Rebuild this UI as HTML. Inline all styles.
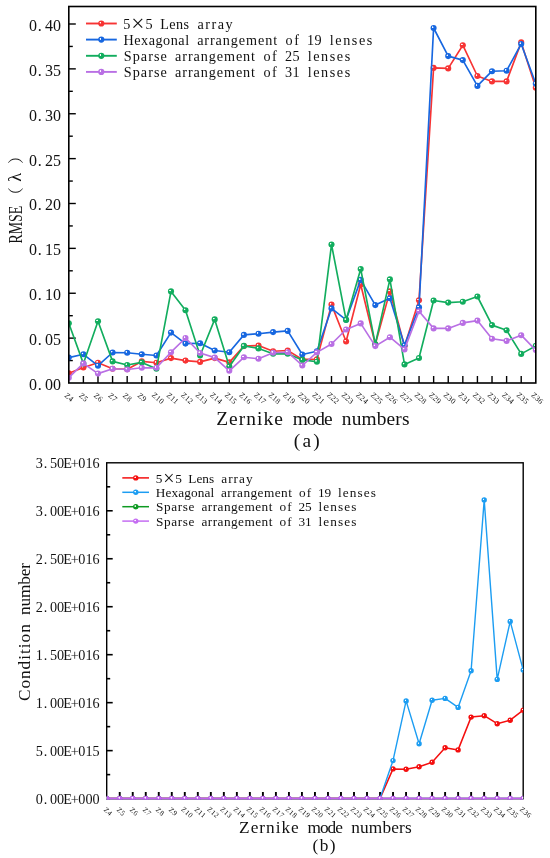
<!DOCTYPE html>
<html lang="en"><head><meta charset="utf-8"><title>Figure</title>
<style>html,body{margin:0;padding:0;background:#fff}svg{display:block}text{font-family:"Liberation Serif", "Noto Serif CJK SC", serif;fill:#111}</style>
</head><body>
<svg width="550" height="858" viewBox="0 0 550 858">
<defs>
<radialGradient id="hl"><stop offset="0" stop-color="#fff" stop-opacity="1"/><stop offset="0.5" stop-color="#fff" stop-opacity="0.95"/><stop offset="1" stop-color="#fff" stop-opacity="0"/></radialGradient>
<clipPath id="clipA"><rect x="68.80" y="6.50" width="467.00" height="376.50"/></clipPath>
<clipPath id="clipB"><rect x="106.70" y="462.80" width="416.50" height="337.00"/></clipPath>
</defs>
<rect width="550" height="858" fill="#fff"/>
<g id="chartA">
<g stroke="#000" stroke-width="1.4">
<line x1="83.39" y1="383.00" x2="83.39" y2="376.00"/>
<line x1="97.99" y1="383.00" x2="97.99" y2="376.00"/>
<line x1="112.58" y1="383.00" x2="112.58" y2="376.00"/>
<line x1="127.17" y1="383.00" x2="127.17" y2="376.00"/>
<line x1="141.77" y1="383.00" x2="141.77" y2="376.00"/>
<line x1="156.36" y1="383.00" x2="156.36" y2="376.00"/>
<line x1="170.96" y1="383.00" x2="170.96" y2="376.00"/>
<line x1="185.55" y1="383.00" x2="185.55" y2="376.00"/>
<line x1="200.14" y1="383.00" x2="200.14" y2="376.00"/>
<line x1="214.74" y1="383.00" x2="214.74" y2="376.00"/>
<line x1="229.33" y1="383.00" x2="229.33" y2="376.00"/>
<line x1="243.92" y1="383.00" x2="243.92" y2="376.00"/>
<line x1="258.52" y1="383.00" x2="258.52" y2="376.00"/>
<line x1="273.11" y1="383.00" x2="273.11" y2="376.00"/>
<line x1="287.71" y1="383.00" x2="287.71" y2="376.00"/>
<line x1="302.30" y1="383.00" x2="302.30" y2="376.00"/>
<line x1="316.89" y1="383.00" x2="316.89" y2="376.00"/>
<line x1="331.49" y1="383.00" x2="331.49" y2="376.00"/>
<line x1="346.08" y1="383.00" x2="346.08" y2="376.00"/>
<line x1="360.67" y1="383.00" x2="360.67" y2="376.00"/>
<line x1="375.27" y1="383.00" x2="375.27" y2="376.00"/>
<line x1="389.86" y1="383.00" x2="389.86" y2="376.00"/>
<line x1="404.46" y1="383.00" x2="404.46" y2="376.00"/>
<line x1="419.05" y1="383.00" x2="419.05" y2="376.00"/>
<line x1="433.64" y1="383.00" x2="433.64" y2="376.00"/>
<line x1="448.24" y1="383.00" x2="448.24" y2="376.00"/>
<line x1="462.83" y1="383.00" x2="462.83" y2="376.00"/>
<line x1="477.42" y1="383.00" x2="477.42" y2="376.00"/>
<line x1="492.02" y1="383.00" x2="492.02" y2="376.00"/>
<line x1="506.61" y1="383.00" x2="506.61" y2="376.00"/>
<line x1="521.21" y1="383.00" x2="521.21" y2="376.00"/>
<line x1="68.80" y1="360.56" x2="72.80" y2="360.56"/>
<line x1="68.80" y1="338.12" x2="75.80" y2="338.12"/>
<line x1="68.80" y1="315.69" x2="72.80" y2="315.69"/>
<line x1="68.80" y1="293.25" x2="75.80" y2="293.25"/>
<line x1="68.80" y1="270.81" x2="72.80" y2="270.81"/>
<line x1="68.80" y1="248.37" x2="75.80" y2="248.37"/>
<line x1="68.80" y1="225.94" x2="72.80" y2="225.94"/>
<line x1="68.80" y1="203.50" x2="75.80" y2="203.50"/>
<line x1="68.80" y1="181.06" x2="72.80" y2="181.06"/>
<line x1="68.80" y1="158.62" x2="75.80" y2="158.62"/>
<line x1="68.80" y1="136.19" x2="72.80" y2="136.19"/>
<line x1="68.80" y1="113.75" x2="75.80" y2="113.75"/>
<line x1="68.80" y1="91.31" x2="72.80" y2="91.31"/>
<line x1="68.80" y1="68.87" x2="75.80" y2="68.87"/>
<line x1="68.80" y1="46.44" x2="72.80" y2="46.44"/>
<line x1="68.80" y1="24.00" x2="75.80" y2="24.00"/>
</g>
<g clip-path="url(#clipA)">
<polyline points="68.8,373.3 83.4,367.5 98.0,362.7 112.6,368.8 127.2,369.3 141.8,361.4 156.4,362.7 171.0,358.1 185.5,360.6 200.1,361.9 214.7,358.1 229.3,362.4 243.9,346.1 258.5,345.6 273.1,351.2 287.7,350.5 302.3,359.4 316.9,359.4 331.5,304.6 346.1,341.5 360.7,284.5 375.3,344.3 389.9,291.4 404.5,346.3 419.0,300.3 433.6,67.9 448.2,68.4 462.8,45.2 477.4,76.0 492.0,81.4 506.6,81.4 521.2,42.4 535.8,87.8" fill="none" stroke="#f73434" stroke-width="1.65" stroke-linejoin="round"/>
<circle cx="68.8" cy="373.3" r="3.05" fill="#f73434"/>
<circle cx="67.9" cy="372.5" r="1.13" fill="url(#hl)"/>
<circle cx="83.4" cy="367.5" r="3.05" fill="#f73434"/>
<circle cx="82.5" cy="366.7" r="1.13" fill="url(#hl)"/>
<circle cx="98.0" cy="362.7" r="3.05" fill="#f73434"/>
<circle cx="97.1" cy="361.9" r="1.13" fill="url(#hl)"/>
<circle cx="112.6" cy="368.8" r="3.05" fill="#f73434"/>
<circle cx="111.7" cy="368.0" r="1.13" fill="url(#hl)"/>
<circle cx="127.2" cy="369.3" r="3.05" fill="#f73434"/>
<circle cx="126.3" cy="368.5" r="1.13" fill="url(#hl)"/>
<circle cx="141.8" cy="361.4" r="3.05" fill="#f73434"/>
<circle cx="140.9" cy="360.6" r="1.13" fill="url(#hl)"/>
<circle cx="156.4" cy="362.7" r="3.05" fill="#f73434"/>
<circle cx="155.5" cy="361.9" r="1.13" fill="url(#hl)"/>
<circle cx="171.0" cy="358.1" r="3.05" fill="#f73434"/>
<circle cx="170.1" cy="357.3" r="1.13" fill="url(#hl)"/>
<circle cx="185.5" cy="360.6" r="3.05" fill="#f73434"/>
<circle cx="184.6" cy="359.8" r="1.13" fill="url(#hl)"/>
<circle cx="200.1" cy="361.9" r="3.05" fill="#f73434"/>
<circle cx="199.2" cy="361.1" r="1.13" fill="url(#hl)"/>
<circle cx="214.7" cy="358.1" r="3.05" fill="#f73434"/>
<circle cx="213.8" cy="357.3" r="1.13" fill="url(#hl)"/>
<circle cx="229.3" cy="362.4" r="3.05" fill="#f73434"/>
<circle cx="228.4" cy="361.6" r="1.13" fill="url(#hl)"/>
<circle cx="243.9" cy="346.1" r="3.05" fill="#f73434"/>
<circle cx="243.0" cy="345.3" r="1.13" fill="url(#hl)"/>
<circle cx="258.5" cy="345.6" r="3.05" fill="#f73434"/>
<circle cx="257.6" cy="344.8" r="1.13" fill="url(#hl)"/>
<circle cx="273.1" cy="351.2" r="3.05" fill="#f73434"/>
<circle cx="272.2" cy="350.4" r="1.13" fill="url(#hl)"/>
<circle cx="287.7" cy="350.5" r="3.05" fill="#f73434"/>
<circle cx="286.8" cy="349.7" r="1.13" fill="url(#hl)"/>
<circle cx="302.3" cy="359.4" r="3.05" fill="#f73434"/>
<circle cx="301.4" cy="358.6" r="1.13" fill="url(#hl)"/>
<circle cx="316.9" cy="359.4" r="3.05" fill="#f73434"/>
<circle cx="316.0" cy="358.6" r="1.13" fill="url(#hl)"/>
<circle cx="331.5" cy="304.6" r="3.05" fill="#f73434"/>
<circle cx="330.6" cy="303.8" r="1.13" fill="url(#hl)"/>
<circle cx="346.1" cy="341.5" r="3.05" fill="#f73434"/>
<circle cx="345.2" cy="340.7" r="1.13" fill="url(#hl)"/>
<circle cx="360.7" cy="284.5" r="3.05" fill="#f73434"/>
<circle cx="359.8" cy="283.7" r="1.13" fill="url(#hl)"/>
<circle cx="375.3" cy="344.3" r="3.05" fill="#f73434"/>
<circle cx="374.4" cy="343.5" r="1.13" fill="url(#hl)"/>
<circle cx="389.9" cy="291.4" r="3.05" fill="#f73434"/>
<circle cx="389.0" cy="290.6" r="1.13" fill="url(#hl)"/>
<circle cx="404.5" cy="346.3" r="3.05" fill="#f73434"/>
<circle cx="403.6" cy="345.5" r="1.13" fill="url(#hl)"/>
<circle cx="419.0" cy="300.3" r="3.05" fill="#f73434"/>
<circle cx="418.1" cy="299.5" r="1.13" fill="url(#hl)"/>
<circle cx="433.6" cy="67.9" r="3.05" fill="#f73434"/>
<circle cx="432.7" cy="67.1" r="1.13" fill="url(#hl)"/>
<circle cx="448.2" cy="68.4" r="3.05" fill="#f73434"/>
<circle cx="447.3" cy="67.6" r="1.13" fill="url(#hl)"/>
<circle cx="462.8" cy="45.2" r="3.05" fill="#f73434"/>
<circle cx="461.9" cy="44.4" r="1.13" fill="url(#hl)"/>
<circle cx="477.4" cy="76.0" r="3.05" fill="#f73434"/>
<circle cx="476.5" cy="75.2" r="1.13" fill="url(#hl)"/>
<circle cx="492.0" cy="81.4" r="3.05" fill="#f73434"/>
<circle cx="491.1" cy="80.6" r="1.13" fill="url(#hl)"/>
<circle cx="506.6" cy="81.4" r="3.05" fill="#f73434"/>
<circle cx="505.7" cy="80.6" r="1.13" fill="url(#hl)"/>
<circle cx="521.2" cy="42.4" r="3.05" fill="#f73434"/>
<circle cx="520.3" cy="41.6" r="1.13" fill="url(#hl)"/>
<circle cx="535.8" cy="87.8" r="3.05" fill="#f73434"/>
<circle cx="534.9" cy="87.0" r="1.13" fill="url(#hl)"/>
<polyline points="68.8,357.6 83.4,354.3 98.0,365.7 112.6,352.5 127.2,352.7 141.8,354.3 156.4,355.5 171.0,332.6 185.5,343.6 200.1,343.3 214.7,350.5 229.3,352.2 243.9,334.9 258.5,333.7 273.1,332.1 287.7,330.9 302.3,354.5 316.9,351.2 331.5,308.4 346.1,319.8 360.7,279.9 375.3,305.1 389.9,298.2 404.5,345.3 419.0,307.4 433.6,28.0 448.2,56.1 462.8,60.1 477.4,85.9 492.0,71.2 506.6,70.7 521.2,44.0 535.8,83.8" fill="none" stroke="#1767e0" stroke-width="1.65" stroke-linejoin="round"/>
<circle cx="68.8" cy="357.6" r="3.05" fill="#1767e0"/>
<circle cx="67.9" cy="356.8" r="1.13" fill="url(#hl)"/>
<circle cx="83.4" cy="354.3" r="3.05" fill="#1767e0"/>
<circle cx="82.5" cy="353.5" r="1.13" fill="url(#hl)"/>
<circle cx="98.0" cy="365.7" r="3.05" fill="#1767e0"/>
<circle cx="97.1" cy="364.9" r="1.13" fill="url(#hl)"/>
<circle cx="112.6" cy="352.5" r="3.05" fill="#1767e0"/>
<circle cx="111.7" cy="351.7" r="1.13" fill="url(#hl)"/>
<circle cx="127.2" cy="352.7" r="3.05" fill="#1767e0"/>
<circle cx="126.3" cy="351.9" r="1.13" fill="url(#hl)"/>
<circle cx="141.8" cy="354.3" r="3.05" fill="#1767e0"/>
<circle cx="140.9" cy="353.5" r="1.13" fill="url(#hl)"/>
<circle cx="156.4" cy="355.5" r="3.05" fill="#1767e0"/>
<circle cx="155.5" cy="354.7" r="1.13" fill="url(#hl)"/>
<circle cx="171.0" cy="332.6" r="3.05" fill="#1767e0"/>
<circle cx="170.1" cy="331.8" r="1.13" fill="url(#hl)"/>
<circle cx="185.5" cy="343.6" r="3.05" fill="#1767e0"/>
<circle cx="184.6" cy="342.8" r="1.13" fill="url(#hl)"/>
<circle cx="200.1" cy="343.3" r="3.05" fill="#1767e0"/>
<circle cx="199.2" cy="342.5" r="1.13" fill="url(#hl)"/>
<circle cx="214.7" cy="350.5" r="3.05" fill="#1767e0"/>
<circle cx="213.8" cy="349.7" r="1.13" fill="url(#hl)"/>
<circle cx="229.3" cy="352.2" r="3.05" fill="#1767e0"/>
<circle cx="228.4" cy="351.4" r="1.13" fill="url(#hl)"/>
<circle cx="243.9" cy="334.9" r="3.05" fill="#1767e0"/>
<circle cx="243.0" cy="334.1" r="1.13" fill="url(#hl)"/>
<circle cx="258.5" cy="333.7" r="3.05" fill="#1767e0"/>
<circle cx="257.6" cy="332.9" r="1.13" fill="url(#hl)"/>
<circle cx="273.1" cy="332.1" r="3.05" fill="#1767e0"/>
<circle cx="272.2" cy="331.3" r="1.13" fill="url(#hl)"/>
<circle cx="287.7" cy="330.9" r="3.05" fill="#1767e0"/>
<circle cx="286.8" cy="330.1" r="1.13" fill="url(#hl)"/>
<circle cx="302.3" cy="354.5" r="3.05" fill="#1767e0"/>
<circle cx="301.4" cy="353.7" r="1.13" fill="url(#hl)"/>
<circle cx="316.9" cy="351.2" r="3.05" fill="#1767e0"/>
<circle cx="316.0" cy="350.4" r="1.13" fill="url(#hl)"/>
<circle cx="331.5" cy="308.4" r="3.05" fill="#1767e0"/>
<circle cx="330.6" cy="307.6" r="1.13" fill="url(#hl)"/>
<circle cx="346.1" cy="319.8" r="3.05" fill="#1767e0"/>
<circle cx="345.2" cy="319.0" r="1.13" fill="url(#hl)"/>
<circle cx="360.7" cy="279.9" r="3.05" fill="#1767e0"/>
<circle cx="359.8" cy="279.1" r="1.13" fill="url(#hl)"/>
<circle cx="375.3" cy="305.1" r="3.05" fill="#1767e0"/>
<circle cx="374.4" cy="304.3" r="1.13" fill="url(#hl)"/>
<circle cx="389.9" cy="298.2" r="3.05" fill="#1767e0"/>
<circle cx="389.0" cy="297.4" r="1.13" fill="url(#hl)"/>
<circle cx="404.5" cy="345.3" r="3.05" fill="#1767e0"/>
<circle cx="403.6" cy="344.5" r="1.13" fill="url(#hl)"/>
<circle cx="419.0" cy="307.4" r="3.05" fill="#1767e0"/>
<circle cx="418.1" cy="306.6" r="1.13" fill="url(#hl)"/>
<circle cx="433.6" cy="28.0" r="3.05" fill="#1767e0"/>
<circle cx="432.7" cy="27.2" r="1.13" fill="url(#hl)"/>
<circle cx="448.2" cy="56.1" r="3.05" fill="#1767e0"/>
<circle cx="447.3" cy="55.3" r="1.13" fill="url(#hl)"/>
<circle cx="462.8" cy="60.1" r="3.05" fill="#1767e0"/>
<circle cx="461.9" cy="59.3" r="1.13" fill="url(#hl)"/>
<circle cx="477.4" cy="85.9" r="3.05" fill="#1767e0"/>
<circle cx="476.5" cy="85.1" r="1.13" fill="url(#hl)"/>
<circle cx="492.0" cy="71.2" r="3.05" fill="#1767e0"/>
<circle cx="491.1" cy="70.4" r="1.13" fill="url(#hl)"/>
<circle cx="506.6" cy="70.7" r="3.05" fill="#1767e0"/>
<circle cx="505.7" cy="69.9" r="1.13" fill="url(#hl)"/>
<circle cx="521.2" cy="44.0" r="3.05" fill="#1767e0"/>
<circle cx="520.3" cy="43.2" r="1.13" fill="url(#hl)"/>
<circle cx="535.8" cy="83.8" r="3.05" fill="#1767e0"/>
<circle cx="534.9" cy="83.0" r="1.13" fill="url(#hl)"/>
<polyline points="68.8,323.2 83.4,363.6 98.0,321.2 112.6,361.4 127.2,365.0 141.8,362.4 156.4,368.8 171.0,291.4 185.5,310.2 200.1,355.5 214.7,319.4 229.3,366.5 243.9,345.9 258.5,348.4 273.1,353.8 287.7,353.8 302.3,359.9 316.9,361.7 331.5,244.5 346.1,319.9 360.7,269.0 375.3,344.3 389.9,279.4 404.5,364.4 419.0,358.0 433.6,300.5 448.2,302.6 462.8,301.7 477.4,296.5 492.0,325.1 506.6,330.3 521.2,353.9 535.8,345.9" fill="none" stroke="#12ad5e" stroke-width="1.65" stroke-linejoin="round"/>
<circle cx="68.8" cy="323.2" r="3.05" fill="#12ad5e"/>
<circle cx="67.9" cy="322.4" r="1.13" fill="url(#hl)"/>
<circle cx="83.4" cy="363.6" r="3.05" fill="#12ad5e"/>
<circle cx="82.5" cy="362.8" r="1.13" fill="url(#hl)"/>
<circle cx="98.0" cy="321.2" r="3.05" fill="#12ad5e"/>
<circle cx="97.1" cy="320.4" r="1.13" fill="url(#hl)"/>
<circle cx="112.6" cy="361.4" r="3.05" fill="#12ad5e"/>
<circle cx="111.7" cy="360.6" r="1.13" fill="url(#hl)"/>
<circle cx="127.2" cy="365.0" r="3.05" fill="#12ad5e"/>
<circle cx="126.3" cy="364.2" r="1.13" fill="url(#hl)"/>
<circle cx="141.8" cy="362.4" r="3.05" fill="#12ad5e"/>
<circle cx="140.9" cy="361.6" r="1.13" fill="url(#hl)"/>
<circle cx="156.4" cy="368.8" r="3.05" fill="#12ad5e"/>
<circle cx="155.5" cy="368.0" r="1.13" fill="url(#hl)"/>
<circle cx="171.0" cy="291.4" r="3.05" fill="#12ad5e"/>
<circle cx="170.1" cy="290.6" r="1.13" fill="url(#hl)"/>
<circle cx="185.5" cy="310.2" r="3.05" fill="#12ad5e"/>
<circle cx="184.6" cy="309.4" r="1.13" fill="url(#hl)"/>
<circle cx="200.1" cy="355.5" r="3.05" fill="#12ad5e"/>
<circle cx="199.2" cy="354.7" r="1.13" fill="url(#hl)"/>
<circle cx="214.7" cy="319.4" r="3.05" fill="#12ad5e"/>
<circle cx="213.8" cy="318.6" r="1.13" fill="url(#hl)"/>
<circle cx="229.3" cy="366.5" r="3.05" fill="#12ad5e"/>
<circle cx="228.4" cy="365.7" r="1.13" fill="url(#hl)"/>
<circle cx="243.9" cy="345.9" r="3.05" fill="#12ad5e"/>
<circle cx="243.0" cy="345.1" r="1.13" fill="url(#hl)"/>
<circle cx="258.5" cy="348.4" r="3.05" fill="#12ad5e"/>
<circle cx="257.6" cy="347.6" r="1.13" fill="url(#hl)"/>
<circle cx="273.1" cy="353.8" r="3.05" fill="#12ad5e"/>
<circle cx="272.2" cy="353.0" r="1.13" fill="url(#hl)"/>
<circle cx="287.7" cy="353.8" r="3.05" fill="#12ad5e"/>
<circle cx="286.8" cy="353.0" r="1.13" fill="url(#hl)"/>
<circle cx="302.3" cy="359.9" r="3.05" fill="#12ad5e"/>
<circle cx="301.4" cy="359.1" r="1.13" fill="url(#hl)"/>
<circle cx="316.9" cy="361.7" r="3.05" fill="#12ad5e"/>
<circle cx="316.0" cy="360.9" r="1.13" fill="url(#hl)"/>
<circle cx="331.5" cy="244.5" r="3.05" fill="#12ad5e"/>
<circle cx="330.6" cy="243.7" r="1.13" fill="url(#hl)"/>
<circle cx="346.1" cy="319.9" r="3.05" fill="#12ad5e"/>
<circle cx="345.2" cy="319.1" r="1.13" fill="url(#hl)"/>
<circle cx="360.7" cy="269.0" r="3.05" fill="#12ad5e"/>
<circle cx="359.8" cy="268.2" r="1.13" fill="url(#hl)"/>
<circle cx="375.3" cy="344.3" r="3.05" fill="#12ad5e"/>
<circle cx="374.4" cy="343.5" r="1.13" fill="url(#hl)"/>
<circle cx="389.9" cy="279.4" r="3.05" fill="#12ad5e"/>
<circle cx="389.0" cy="278.6" r="1.13" fill="url(#hl)"/>
<circle cx="404.5" cy="364.4" r="3.05" fill="#12ad5e"/>
<circle cx="403.6" cy="363.6" r="1.13" fill="url(#hl)"/>
<circle cx="419.0" cy="358.0" r="3.05" fill="#12ad5e"/>
<circle cx="418.1" cy="357.2" r="1.13" fill="url(#hl)"/>
<circle cx="433.6" cy="300.5" r="3.05" fill="#12ad5e"/>
<circle cx="432.7" cy="299.7" r="1.13" fill="url(#hl)"/>
<circle cx="448.2" cy="302.6" r="3.05" fill="#12ad5e"/>
<circle cx="447.3" cy="301.8" r="1.13" fill="url(#hl)"/>
<circle cx="462.8" cy="301.7" r="3.05" fill="#12ad5e"/>
<circle cx="461.9" cy="300.9" r="1.13" fill="url(#hl)"/>
<circle cx="477.4" cy="296.5" r="3.05" fill="#12ad5e"/>
<circle cx="476.5" cy="295.7" r="1.13" fill="url(#hl)"/>
<circle cx="492.0" cy="325.1" r="3.05" fill="#12ad5e"/>
<circle cx="491.1" cy="324.3" r="1.13" fill="url(#hl)"/>
<circle cx="506.6" cy="330.3" r="3.05" fill="#12ad5e"/>
<circle cx="505.7" cy="329.5" r="1.13" fill="url(#hl)"/>
<circle cx="521.2" cy="353.9" r="3.05" fill="#12ad5e"/>
<circle cx="520.3" cy="353.1" r="1.13" fill="url(#hl)"/>
<circle cx="535.8" cy="345.9" r="3.05" fill="#12ad5e"/>
<circle cx="534.9" cy="345.1" r="1.13" fill="url(#hl)"/>
<polyline points="68.8,377.7 83.4,363.4 98.0,373.6 112.6,368.8 127.2,369.5 141.8,367.8 156.4,367.8 171.0,352.2 185.5,338.0 200.1,353.0 214.7,357.6 229.3,370.8 243.9,357.3 258.5,358.8 273.1,352.7 287.7,352.2 302.3,365.5 316.9,352.4 331.5,344.0 346.1,329.5 360.7,323.4 375.3,346.1 389.9,337.2 404.5,349.4 419.0,311.2 433.6,328.4 448.2,328.4 462.8,322.9 477.4,320.6 492.0,338.8 506.6,340.9 521.2,335.2 535.8,350.1" fill="none" stroke="#b96fe4" stroke-width="1.65" stroke-linejoin="round"/>
<circle cx="68.8" cy="377.7" r="3.05" fill="#b96fe4"/>
<circle cx="67.9" cy="376.9" r="1.13" fill="url(#hl)"/>
<circle cx="83.4" cy="363.4" r="3.05" fill="#b96fe4"/>
<circle cx="82.5" cy="362.6" r="1.13" fill="url(#hl)"/>
<circle cx="98.0" cy="373.6" r="3.05" fill="#b96fe4"/>
<circle cx="97.1" cy="372.8" r="1.13" fill="url(#hl)"/>
<circle cx="112.6" cy="368.8" r="3.05" fill="#b96fe4"/>
<circle cx="111.7" cy="368.0" r="1.13" fill="url(#hl)"/>
<circle cx="127.2" cy="369.5" r="3.05" fill="#b96fe4"/>
<circle cx="126.3" cy="368.7" r="1.13" fill="url(#hl)"/>
<circle cx="141.8" cy="367.8" r="3.05" fill="#b96fe4"/>
<circle cx="140.9" cy="367.0" r="1.13" fill="url(#hl)"/>
<circle cx="156.4" cy="367.8" r="3.05" fill="#b96fe4"/>
<circle cx="155.5" cy="367.0" r="1.13" fill="url(#hl)"/>
<circle cx="171.0" cy="352.2" r="3.05" fill="#b96fe4"/>
<circle cx="170.1" cy="351.4" r="1.13" fill="url(#hl)"/>
<circle cx="185.5" cy="338.0" r="3.05" fill="#b96fe4"/>
<circle cx="184.6" cy="337.2" r="1.13" fill="url(#hl)"/>
<circle cx="200.1" cy="353.0" r="3.05" fill="#b96fe4"/>
<circle cx="199.2" cy="352.2" r="1.13" fill="url(#hl)"/>
<circle cx="214.7" cy="357.6" r="3.05" fill="#b96fe4"/>
<circle cx="213.8" cy="356.8" r="1.13" fill="url(#hl)"/>
<circle cx="229.3" cy="370.8" r="3.05" fill="#b96fe4"/>
<circle cx="228.4" cy="370.0" r="1.13" fill="url(#hl)"/>
<circle cx="243.9" cy="357.3" r="3.05" fill="#b96fe4"/>
<circle cx="243.0" cy="356.5" r="1.13" fill="url(#hl)"/>
<circle cx="258.5" cy="358.8" r="3.05" fill="#b96fe4"/>
<circle cx="257.6" cy="358.0" r="1.13" fill="url(#hl)"/>
<circle cx="273.1" cy="352.7" r="3.05" fill="#b96fe4"/>
<circle cx="272.2" cy="351.9" r="1.13" fill="url(#hl)"/>
<circle cx="287.7" cy="352.2" r="3.05" fill="#b96fe4"/>
<circle cx="286.8" cy="351.4" r="1.13" fill="url(#hl)"/>
<circle cx="302.3" cy="365.5" r="3.05" fill="#b96fe4"/>
<circle cx="301.4" cy="364.7" r="1.13" fill="url(#hl)"/>
<circle cx="316.9" cy="352.4" r="3.05" fill="#b96fe4"/>
<circle cx="316.0" cy="351.6" r="1.13" fill="url(#hl)"/>
<circle cx="331.5" cy="344.0" r="3.05" fill="#b96fe4"/>
<circle cx="330.6" cy="343.2" r="1.13" fill="url(#hl)"/>
<circle cx="346.1" cy="329.5" r="3.05" fill="#b96fe4"/>
<circle cx="345.2" cy="328.7" r="1.13" fill="url(#hl)"/>
<circle cx="360.7" cy="323.4" r="3.05" fill="#b96fe4"/>
<circle cx="359.8" cy="322.6" r="1.13" fill="url(#hl)"/>
<circle cx="375.3" cy="346.1" r="3.05" fill="#b96fe4"/>
<circle cx="374.4" cy="345.3" r="1.13" fill="url(#hl)"/>
<circle cx="389.9" cy="337.2" r="3.05" fill="#b96fe4"/>
<circle cx="389.0" cy="336.4" r="1.13" fill="url(#hl)"/>
<circle cx="404.5" cy="349.4" r="3.05" fill="#b96fe4"/>
<circle cx="403.6" cy="348.6" r="1.13" fill="url(#hl)"/>
<circle cx="419.0" cy="311.2" r="3.05" fill="#b96fe4"/>
<circle cx="418.1" cy="310.4" r="1.13" fill="url(#hl)"/>
<circle cx="433.6" cy="328.4" r="3.05" fill="#b96fe4"/>
<circle cx="432.7" cy="327.6" r="1.13" fill="url(#hl)"/>
<circle cx="448.2" cy="328.4" r="3.05" fill="#b96fe4"/>
<circle cx="447.3" cy="327.6" r="1.13" fill="url(#hl)"/>
<circle cx="462.8" cy="322.9" r="3.05" fill="#b96fe4"/>
<circle cx="461.9" cy="322.1" r="1.13" fill="url(#hl)"/>
<circle cx="477.4" cy="320.6" r="3.05" fill="#b96fe4"/>
<circle cx="476.5" cy="319.8" r="1.13" fill="url(#hl)"/>
<circle cx="492.0" cy="338.8" r="3.05" fill="#b96fe4"/>
<circle cx="491.1" cy="338.0" r="1.13" fill="url(#hl)"/>
<circle cx="506.6" cy="340.9" r="3.05" fill="#b96fe4"/>
<circle cx="505.7" cy="340.1" r="1.13" fill="url(#hl)"/>
<circle cx="521.2" cy="335.2" r="3.05" fill="#b96fe4"/>
<circle cx="520.3" cy="334.4" r="1.13" fill="url(#hl)"/>
<circle cx="535.8" cy="350.1" r="3.05" fill="#b96fe4"/>
<circle cx="534.9" cy="349.3" r="1.13" fill="url(#hl)"/>
</g>
<rect x="68.80" y="6.50" width="467.00" height="376.50" fill="none" stroke="#000" stroke-width="1.6"/>
<text x="29.00 37.80 45.00 53.00" y="389.90" font-size="16" >0.00</text>
<text x="29.00 37.80 45.00 53.00" y="345.02" font-size="16" >0.05</text>
<text x="29.00 37.80 45.00 53.00" y="300.15" font-size="16" >0.10</text>
<text x="29.00 37.80 45.00 53.00" y="255.27" font-size="16" >0.15</text>
<text x="29.00 37.80 45.00 53.00" y="210.40" font-size="16" >0.20</text>
<text x="29.00 37.80 45.00 53.00" y="165.53" font-size="16" >0.25</text>
<text x="29.00 37.80 45.00 53.00" y="120.65" font-size="16" >0.30</text>
<text x="29.00 37.80 45.00 53.00" y="75.77" font-size="16" >0.35</text>
<text x="29.00 37.80 45.00 53.00" y="30.90" font-size="16" >0.40</text>
<text transform="translate(69.1,397.3) rotate(41)" font-size="7.8" letter-spacing="0.2" text-anchor="middle" fill="#505050" y="2.6">Z4</text>
<text transform="translate(83.7,397.3) rotate(41)" font-size="7.8" letter-spacing="0.2" text-anchor="middle" fill="#505050" y="2.6">Z5</text>
<text transform="translate(98.3,397.3) rotate(41)" font-size="7.8" letter-spacing="0.2" text-anchor="middle" fill="#505050" y="2.6">Z6</text>
<text transform="translate(112.9,397.3) rotate(41)" font-size="7.8" letter-spacing="0.2" text-anchor="middle" fill="#505050" y="2.6">Z7</text>
<text transform="translate(127.5,397.3) rotate(41)" font-size="7.8" letter-spacing="0.2" text-anchor="middle" fill="#505050" y="2.6">Z8</text>
<text transform="translate(142.1,397.3) rotate(41)" font-size="7.8" letter-spacing="0.2" text-anchor="middle" fill="#505050" y="2.6">Z9</text>
<text transform="translate(158.0,398.2) rotate(41)" font-size="7.8" letter-spacing="0.2" text-anchor="middle" fill="#505050" y="2.6">Z10</text>
<text transform="translate(172.6,398.2) rotate(41)" font-size="7.8" letter-spacing="0.2" text-anchor="middle" fill="#505050" y="2.6">Z11</text>
<text transform="translate(187.2,398.2) rotate(41)" font-size="7.8" letter-spacing="0.2" text-anchor="middle" fill="#505050" y="2.6">Z12</text>
<text transform="translate(201.7,398.2) rotate(41)" font-size="7.8" letter-spacing="0.2" text-anchor="middle" fill="#505050" y="2.6">Z13</text>
<text transform="translate(216.3,398.2) rotate(41)" font-size="7.8" letter-spacing="0.2" text-anchor="middle" fill="#505050" y="2.6">Z14</text>
<text transform="translate(230.9,398.2) rotate(41)" font-size="7.8" letter-spacing="0.2" text-anchor="middle" fill="#505050" y="2.6">Z15</text>
<text transform="translate(245.5,398.2) rotate(41)" font-size="7.8" letter-spacing="0.2" text-anchor="middle" fill="#505050" y="2.6">Z16</text>
<text transform="translate(260.1,398.2) rotate(41)" font-size="7.8" letter-spacing="0.2" text-anchor="middle" fill="#505050" y="2.6">Z17</text>
<text transform="translate(274.7,398.2) rotate(41)" font-size="7.8" letter-spacing="0.2" text-anchor="middle" fill="#505050" y="2.6">Z18</text>
<text transform="translate(289.3,398.2) rotate(41)" font-size="7.8" letter-spacing="0.2" text-anchor="middle" fill="#505050" y="2.6">Z19</text>
<text transform="translate(303.9,398.2) rotate(41)" font-size="7.8" letter-spacing="0.2" text-anchor="middle" fill="#505050" y="2.6">Z20</text>
<text transform="translate(318.5,398.2) rotate(41)" font-size="7.8" letter-spacing="0.2" text-anchor="middle" fill="#505050" y="2.6">Z21</text>
<text transform="translate(333.1,398.2) rotate(41)" font-size="7.8" letter-spacing="0.2" text-anchor="middle" fill="#505050" y="2.6">Z22</text>
<text transform="translate(347.7,398.2) rotate(41)" font-size="7.8" letter-spacing="0.2" text-anchor="middle" fill="#505050" y="2.6">Z23</text>
<text transform="translate(362.3,398.2) rotate(41)" font-size="7.8" letter-spacing="0.2" text-anchor="middle" fill="#505050" y="2.6">Z24</text>
<text transform="translate(376.9,398.2) rotate(41)" font-size="7.8" letter-spacing="0.2" text-anchor="middle" fill="#505050" y="2.6">Z25</text>
<text transform="translate(391.5,398.2) rotate(41)" font-size="7.8" letter-spacing="0.2" text-anchor="middle" fill="#505050" y="2.6">Z26</text>
<text transform="translate(406.1,398.2) rotate(41)" font-size="7.8" letter-spacing="0.2" text-anchor="middle" fill="#505050" y="2.6">Z27</text>
<text transform="translate(420.6,398.2) rotate(41)" font-size="7.8" letter-spacing="0.2" text-anchor="middle" fill="#505050" y="2.6">Z28</text>
<text transform="translate(435.2,398.2) rotate(41)" font-size="7.8" letter-spacing="0.2" text-anchor="middle" fill="#505050" y="2.6">Z29</text>
<text transform="translate(449.8,398.2) rotate(41)" font-size="7.8" letter-spacing="0.2" text-anchor="middle" fill="#505050" y="2.6">Z30</text>
<text transform="translate(464.4,398.2) rotate(41)" font-size="7.8" letter-spacing="0.2" text-anchor="middle" fill="#505050" y="2.6">Z31</text>
<text transform="translate(479.0,398.2) rotate(41)" font-size="7.8" letter-spacing="0.2" text-anchor="middle" fill="#505050" y="2.6">Z32</text>
<text transform="translate(493.6,398.2) rotate(41)" font-size="7.8" letter-spacing="0.2" text-anchor="middle" fill="#505050" y="2.6">Z33</text>
<text transform="translate(508.2,398.2) rotate(41)" font-size="7.8" letter-spacing="0.2" text-anchor="middle" fill="#505050" y="2.6">Z34</text>
<text transform="translate(522.8,398.2) rotate(41)" font-size="7.8" letter-spacing="0.2" text-anchor="middle" fill="#505050" y="2.6">Z35</text>
<text transform="translate(537.4,398.2) rotate(41)" font-size="7.8" letter-spacing="0.2" text-anchor="middle" fill="#505050" y="2.6">Z36</text>
<text x="216.14 229.07 238.77 246.31 257.09 263.57 274.35 285.92 292.66 306.68 315.30 323.93 334.42 341.78 351.63 361.49 376.73 386.59 395.36 401.97" y="425.20" font-size="19.4" >Zernike mode numbers</text>
<text x="293.87 302.49 313.27" y="447.00" font-size="19.4" >(a)</text>
<g transform="translate(21.5,244.0) rotate(-90)"><text x="0.5" y="0" font-size="19.4" textLength="37.8" lengthAdjust="spacingAndGlyphs">RMSE</text>
<text x="40.8 62.3 80.0" y="-0.8 -0.6 -0.8" font-size="16"><tspan>（</tspan><tspan font-size="18.5">λ</tspan><tspan>）</tspan></text>
</g>
<line x1="86" y1="23.5" x2="116.8" y2="23.5" stroke="#f73434" stroke-width="1.9"/>
<circle cx="101.3" cy="23.5" r="3.1" fill="#f73434"/>
<circle cx="100.4" cy="22.7" r="1.15" fill="url(#hl)"/>
<text x="123.33 131.29 145.38 154.50 160.17 169.30 176.05 183.60 191.25 197.46 205.28 211.52 217.77 225.59" y="28.50 30.90 28.50 28.50 28.50 28.50 28.50 28.50 28.50 28.50 28.50 28.50 28.50 28.50" font-size="14.2" >5<tspan font-size="23.4">×</tspan>5 Lens array</text>
<line x1="86" y1="39.6" x2="116.8" y2="39.6" stroke="#1767e0" stroke-width="1.9"/>
<circle cx="101.3" cy="39.6" r="3.1" fill="#1767e0"/>
<circle cx="100.4" cy="38.9" r="1.15" fill="url(#hl)"/>
<text x="123.46 134.23 141.05 148.66 155.48 163.10 170.71 178.33 185.15 191.25 197.15 204.35 209.98 215.61 222.81 230.81 238.81 246.01 257.95 265.16 273.16 279.45 285.62 294.15 301.50 307.08 314.43 323.55 329.78 335.29 343.16 351.83 358.92 366.79" y="44.65 44.65 44.65 44.65 44.65 44.65 44.65 44.65 44.65 44.65 44.65 44.65 44.65 44.65 44.65 44.65 44.65 44.65 44.65 44.65 44.65 44.65 44.65 44.65 44.65 44.65 44.65 44.65 44.65 44.65 44.65 44.65 44.65 44.65" font-size="14.2" >Hexagonal arrangement of 19 lenses</text>
<line x1="86" y1="55.8" x2="116.8" y2="55.8" stroke="#12ad5e" stroke-width="1.9"/>
<circle cx="101.3" cy="55.8" r="3.1" fill="#12ad5e"/>
<circle cx="100.4" cy="55.0" r="1.15" fill="url(#hl)"/>
<text x="123.72 132.66 140.80 148.14 153.91 160.48 169.20 175.10 182.30 187.93 193.56 200.76 208.76 216.76 223.96 235.90 243.11 251.11 257.40 263.57 272.10 279.45 285.02 292.38 301.50 307.73 313.24 321.11 329.78 336.87 344.74" y="60.80 60.80 60.80 60.80 60.80 60.80 60.80 60.80 60.80 60.80 60.80 60.80 60.80 60.80 60.80 60.80 60.80 60.80 60.80 60.80 60.80 60.80 60.80 60.80 60.80 60.80 60.80 60.80 60.80 60.80 60.80" font-size="14.2" >Sparse arrangement of 25 lenses</text>
<line x1="86" y1="71.9" x2="116.8" y2="71.9" stroke="#b96fe4" stroke-width="1.9"/>
<circle cx="101.3" cy="71.9" r="3.1" fill="#b96fe4"/>
<circle cx="100.4" cy="71.1" r="1.15" fill="url(#hl)"/>
<text x="123.72 132.66 140.80 148.14 153.91 160.48 169.20 175.10 182.30 187.93 193.56 200.76 208.76 216.76 223.96 235.90 243.11 251.11 257.40 263.57 272.10 279.45 285.02 292.38 301.50 307.73 313.24 321.11 329.78 336.87 344.74" y="76.95 76.95 76.95 76.95 76.95 76.95 76.95 76.95 76.95 76.95 76.95 76.95 76.95 76.95 76.95 76.95 76.95 76.95 76.95 76.95 76.95 76.95 76.95 76.95 76.95 76.95 76.95 76.95 76.95 76.95 76.95" font-size="14.2" >Sparse arrangement of 31 lenses</text>
</g>
<g id="chartB">
<rect x="106.70" y="462.80" width="416.50" height="335.80" fill="none" stroke="#000" stroke-width="1.4"/>
<g stroke="#000" stroke-width="1.6">
<line x1="119.72" y1="798.60" x2="119.72" y2="792.00" stroke-width="1.9"/>
<line x1="132.73" y1="798.60" x2="132.73" y2="792.00" stroke-width="1.9"/>
<line x1="145.75" y1="798.60" x2="145.75" y2="792.00" stroke-width="1.9"/>
<line x1="158.76" y1="798.60" x2="158.76" y2="792.00" stroke-width="1.9"/>
<line x1="171.78" y1="798.60" x2="171.78" y2="792.00" stroke-width="1.9"/>
<line x1="184.79" y1="798.60" x2="184.79" y2="792.00" stroke-width="1.9"/>
<line x1="197.81" y1="798.60" x2="197.81" y2="792.00" stroke-width="1.9"/>
<line x1="210.83" y1="798.60" x2="210.83" y2="792.00" stroke-width="1.9"/>
<line x1="223.84" y1="798.60" x2="223.84" y2="792.00" stroke-width="1.9"/>
<line x1="236.86" y1="798.60" x2="236.86" y2="792.00" stroke-width="1.9"/>
<line x1="249.87" y1="798.60" x2="249.87" y2="792.00" stroke-width="1.9"/>
<line x1="262.89" y1="798.60" x2="262.89" y2="792.00" stroke-width="1.9"/>
<line x1="275.90" y1="798.60" x2="275.90" y2="792.00" stroke-width="1.9"/>
<line x1="288.92" y1="798.60" x2="288.92" y2="792.00" stroke-width="1.9"/>
<line x1="301.93" y1="798.60" x2="301.93" y2="792.00" stroke-width="1.9"/>
<line x1="314.95" y1="798.60" x2="314.95" y2="792.00" stroke-width="1.9"/>
<line x1="327.97" y1="798.60" x2="327.97" y2="792.00" stroke-width="1.9"/>
<line x1="340.98" y1="798.60" x2="340.98" y2="792.00" stroke-width="1.9"/>
<line x1="354.00" y1="798.60" x2="354.00" y2="792.00" stroke-width="1.9"/>
<line x1="367.01" y1="798.60" x2="367.01" y2="792.00" stroke-width="1.9"/>
<line x1="380.03" y1="798.60" x2="380.03" y2="792.00" stroke-width="1.9"/>
<line x1="393.04" y1="798.60" x2="393.04" y2="792.00" stroke-width="1.9"/>
<line x1="406.06" y1="798.60" x2="406.06" y2="792.00" stroke-width="1.9"/>
<line x1="419.08" y1="798.60" x2="419.08" y2="792.00" stroke-width="1.9"/>
<line x1="432.09" y1="798.60" x2="432.09" y2="792.00" stroke-width="1.9"/>
<line x1="445.11" y1="798.60" x2="445.11" y2="792.00" stroke-width="1.9"/>
<line x1="458.12" y1="798.60" x2="458.12" y2="792.00" stroke-width="1.9"/>
<line x1="471.14" y1="798.60" x2="471.14" y2="792.00" stroke-width="1.9"/>
<line x1="484.15" y1="798.60" x2="484.15" y2="792.00" stroke-width="1.9"/>
<line x1="497.17" y1="798.60" x2="497.17" y2="792.00" stroke-width="1.9"/>
<line x1="510.18" y1="798.60" x2="510.18" y2="792.00" stroke-width="1.9"/>
<line x1="106.70" y1="774.62" x2="110.20" y2="774.62"/>
<line x1="106.70" y1="750.63" x2="112.70" y2="750.63"/>
<line x1="106.70" y1="726.64" x2="110.20" y2="726.64"/>
<line x1="106.70" y1="702.66" x2="112.70" y2="702.66"/>
<line x1="106.70" y1="678.68" x2="110.20" y2="678.68"/>
<line x1="106.70" y1="654.69" x2="112.70" y2="654.69"/>
<line x1="106.70" y1="630.71" x2="110.20" y2="630.71"/>
<line x1="106.70" y1="606.72" x2="112.70" y2="606.72"/>
<line x1="106.70" y1="582.74" x2="110.20" y2="582.74"/>
<line x1="106.70" y1="558.75" x2="112.70" y2="558.75"/>
<line x1="106.70" y1="534.77" x2="110.20" y2="534.77"/>
<line x1="106.70" y1="510.78" x2="112.70" y2="510.78"/>
<line x1="106.70" y1="486.80" x2="110.20" y2="486.80"/>
</g>
<g clip-path="url(#clipB)">
<polyline points="106.7,798.6 119.7,798.6 132.7,798.6 145.7,798.6 158.8,798.6 171.8,798.6 184.8,798.6 197.8,798.6 210.8,798.6 223.8,798.6 236.9,798.6 249.9,798.6 262.9,798.6 275.9,798.6 288.9,798.6 301.9,798.6 315.0,798.6 328.0,798.6 341.0,798.6 354.0,798.6 367.0,798.6 380.0,798.6 393.0,768.9 406.1,769.3 419.1,766.8 432.1,762.3 445.1,747.8 458.1,749.9 471.1,717.1 484.2,715.7 497.2,723.7 510.2,720.2 523.2,710.2" fill="none" stroke="#f40f0f" stroke-width="1.5" stroke-linejoin="round"/>
<circle cx="106.7" cy="798.6" r="2.7" fill="#f40f0f"/>
<circle cx="106.1" cy="798.0" r="0.95" fill="url(#hl)"/>
<circle cx="119.7" cy="798.6" r="2.7" fill="#f40f0f"/>
<circle cx="119.1" cy="798.0" r="0.95" fill="url(#hl)"/>
<circle cx="132.7" cy="798.6" r="2.7" fill="#f40f0f"/>
<circle cx="132.1" cy="798.0" r="0.95" fill="url(#hl)"/>
<circle cx="145.7" cy="798.6" r="2.7" fill="#f40f0f"/>
<circle cx="145.1" cy="798.0" r="0.95" fill="url(#hl)"/>
<circle cx="158.8" cy="798.6" r="2.7" fill="#f40f0f"/>
<circle cx="158.2" cy="798.0" r="0.95" fill="url(#hl)"/>
<circle cx="171.8" cy="798.6" r="2.7" fill="#f40f0f"/>
<circle cx="171.2" cy="798.0" r="0.95" fill="url(#hl)"/>
<circle cx="184.8" cy="798.6" r="2.7" fill="#f40f0f"/>
<circle cx="184.2" cy="798.0" r="0.95" fill="url(#hl)"/>
<circle cx="197.8" cy="798.6" r="2.7" fill="#f40f0f"/>
<circle cx="197.2" cy="798.0" r="0.95" fill="url(#hl)"/>
<circle cx="210.8" cy="798.6" r="2.7" fill="#f40f0f"/>
<circle cx="210.2" cy="798.0" r="0.95" fill="url(#hl)"/>
<circle cx="223.8" cy="798.6" r="2.7" fill="#f40f0f"/>
<circle cx="223.2" cy="798.0" r="0.95" fill="url(#hl)"/>
<circle cx="236.9" cy="798.6" r="2.7" fill="#f40f0f"/>
<circle cx="236.3" cy="798.0" r="0.95" fill="url(#hl)"/>
<circle cx="249.9" cy="798.6" r="2.7" fill="#f40f0f"/>
<circle cx="249.3" cy="798.0" r="0.95" fill="url(#hl)"/>
<circle cx="262.9" cy="798.6" r="2.7" fill="#f40f0f"/>
<circle cx="262.3" cy="798.0" r="0.95" fill="url(#hl)"/>
<circle cx="275.9" cy="798.6" r="2.7" fill="#f40f0f"/>
<circle cx="275.3" cy="798.0" r="0.95" fill="url(#hl)"/>
<circle cx="288.9" cy="798.6" r="2.7" fill="#f40f0f"/>
<circle cx="288.3" cy="798.0" r="0.95" fill="url(#hl)"/>
<circle cx="301.9" cy="798.6" r="2.7" fill="#f40f0f"/>
<circle cx="301.3" cy="798.0" r="0.95" fill="url(#hl)"/>
<circle cx="315.0" cy="798.6" r="2.7" fill="#f40f0f"/>
<circle cx="314.4" cy="798.0" r="0.95" fill="url(#hl)"/>
<circle cx="328.0" cy="798.6" r="2.7" fill="#f40f0f"/>
<circle cx="327.4" cy="798.0" r="0.95" fill="url(#hl)"/>
<circle cx="341.0" cy="798.6" r="2.7" fill="#f40f0f"/>
<circle cx="340.4" cy="798.0" r="0.95" fill="url(#hl)"/>
<circle cx="354.0" cy="798.6" r="2.7" fill="#f40f0f"/>
<circle cx="353.4" cy="798.0" r="0.95" fill="url(#hl)"/>
<circle cx="367.0" cy="798.6" r="2.7" fill="#f40f0f"/>
<circle cx="366.4" cy="798.0" r="0.95" fill="url(#hl)"/>
<circle cx="380.0" cy="798.6" r="2.7" fill="#f40f0f"/>
<circle cx="379.4" cy="798.0" r="0.95" fill="url(#hl)"/>
<circle cx="393.0" cy="768.9" r="2.7" fill="#f40f0f"/>
<circle cx="392.4" cy="768.3" r="0.95" fill="url(#hl)"/>
<circle cx="406.1" cy="769.3" r="2.7" fill="#f40f0f"/>
<circle cx="405.5" cy="768.7" r="0.95" fill="url(#hl)"/>
<circle cx="419.1" cy="766.8" r="2.7" fill="#f40f0f"/>
<circle cx="418.5" cy="766.2" r="0.95" fill="url(#hl)"/>
<circle cx="432.1" cy="762.3" r="2.7" fill="#f40f0f"/>
<circle cx="431.5" cy="761.7" r="0.95" fill="url(#hl)"/>
<circle cx="445.1" cy="747.8" r="2.7" fill="#f40f0f"/>
<circle cx="444.5" cy="747.2" r="0.95" fill="url(#hl)"/>
<circle cx="458.1" cy="749.9" r="2.7" fill="#f40f0f"/>
<circle cx="457.5" cy="749.3" r="0.95" fill="url(#hl)"/>
<circle cx="471.1" cy="717.1" r="2.7" fill="#f40f0f"/>
<circle cx="470.5" cy="716.5" r="0.95" fill="url(#hl)"/>
<circle cx="484.2" cy="715.7" r="2.7" fill="#f40f0f"/>
<circle cx="483.6" cy="715.1" r="0.95" fill="url(#hl)"/>
<circle cx="497.2" cy="723.7" r="2.7" fill="#f40f0f"/>
<circle cx="496.6" cy="723.1" r="0.95" fill="url(#hl)"/>
<circle cx="510.2" cy="720.2" r="2.7" fill="#f40f0f"/>
<circle cx="509.6" cy="719.6" r="0.95" fill="url(#hl)"/>
<circle cx="523.2" cy="710.2" r="2.7" fill="#f40f0f"/>
<circle cx="522.6" cy="709.6" r="0.95" fill="url(#hl)"/>
<polyline points="106.7,798.6 119.7,798.6 132.7,798.6 145.7,798.6 158.8,798.6 171.8,798.6 184.8,798.6 197.8,798.6 210.8,798.6 223.8,798.6 236.9,798.6 249.9,798.6 262.9,798.6 275.9,798.6 288.9,798.6 301.9,798.6 315.0,798.6 328.0,798.6 341.0,798.6 354.0,798.6 367.0,798.6 380.0,798.6 393.0,760.6 406.1,700.9 419.1,743.7 432.1,700.2 445.1,698.4 458.1,707.4 471.1,670.8 484.2,499.9 497.2,679.4 510.2,621.4 523.2,670.1" fill="none" stroke="#1c9df2" stroke-width="1.4" stroke-linejoin="round"/>
<circle cx="106.7" cy="798.6" r="2.7" fill="#1c9df2"/>
<circle cx="106.1" cy="798.0" r="0.95" fill="url(#hl)"/>
<circle cx="119.7" cy="798.6" r="2.7" fill="#1c9df2"/>
<circle cx="119.1" cy="798.0" r="0.95" fill="url(#hl)"/>
<circle cx="132.7" cy="798.6" r="2.7" fill="#1c9df2"/>
<circle cx="132.1" cy="798.0" r="0.95" fill="url(#hl)"/>
<circle cx="145.7" cy="798.6" r="2.7" fill="#1c9df2"/>
<circle cx="145.1" cy="798.0" r="0.95" fill="url(#hl)"/>
<circle cx="158.8" cy="798.6" r="2.7" fill="#1c9df2"/>
<circle cx="158.2" cy="798.0" r="0.95" fill="url(#hl)"/>
<circle cx="171.8" cy="798.6" r="2.7" fill="#1c9df2"/>
<circle cx="171.2" cy="798.0" r="0.95" fill="url(#hl)"/>
<circle cx="184.8" cy="798.6" r="2.7" fill="#1c9df2"/>
<circle cx="184.2" cy="798.0" r="0.95" fill="url(#hl)"/>
<circle cx="197.8" cy="798.6" r="2.7" fill="#1c9df2"/>
<circle cx="197.2" cy="798.0" r="0.95" fill="url(#hl)"/>
<circle cx="210.8" cy="798.6" r="2.7" fill="#1c9df2"/>
<circle cx="210.2" cy="798.0" r="0.95" fill="url(#hl)"/>
<circle cx="223.8" cy="798.6" r="2.7" fill="#1c9df2"/>
<circle cx="223.2" cy="798.0" r="0.95" fill="url(#hl)"/>
<circle cx="236.9" cy="798.6" r="2.7" fill="#1c9df2"/>
<circle cx="236.3" cy="798.0" r="0.95" fill="url(#hl)"/>
<circle cx="249.9" cy="798.6" r="2.7" fill="#1c9df2"/>
<circle cx="249.3" cy="798.0" r="0.95" fill="url(#hl)"/>
<circle cx="262.9" cy="798.6" r="2.7" fill="#1c9df2"/>
<circle cx="262.3" cy="798.0" r="0.95" fill="url(#hl)"/>
<circle cx="275.9" cy="798.6" r="2.7" fill="#1c9df2"/>
<circle cx="275.3" cy="798.0" r="0.95" fill="url(#hl)"/>
<circle cx="288.9" cy="798.6" r="2.7" fill="#1c9df2"/>
<circle cx="288.3" cy="798.0" r="0.95" fill="url(#hl)"/>
<circle cx="301.9" cy="798.6" r="2.7" fill="#1c9df2"/>
<circle cx="301.3" cy="798.0" r="0.95" fill="url(#hl)"/>
<circle cx="315.0" cy="798.6" r="2.7" fill="#1c9df2"/>
<circle cx="314.4" cy="798.0" r="0.95" fill="url(#hl)"/>
<circle cx="328.0" cy="798.6" r="2.7" fill="#1c9df2"/>
<circle cx="327.4" cy="798.0" r="0.95" fill="url(#hl)"/>
<circle cx="341.0" cy="798.6" r="2.7" fill="#1c9df2"/>
<circle cx="340.4" cy="798.0" r="0.95" fill="url(#hl)"/>
<circle cx="354.0" cy="798.6" r="2.7" fill="#1c9df2"/>
<circle cx="353.4" cy="798.0" r="0.95" fill="url(#hl)"/>
<circle cx="367.0" cy="798.6" r="2.7" fill="#1c9df2"/>
<circle cx="366.4" cy="798.0" r="0.95" fill="url(#hl)"/>
<circle cx="380.0" cy="798.6" r="2.7" fill="#1c9df2"/>
<circle cx="379.4" cy="798.0" r="0.95" fill="url(#hl)"/>
<circle cx="393.0" cy="760.6" r="2.7" fill="#1c9df2"/>
<circle cx="392.4" cy="760.0" r="0.95" fill="url(#hl)"/>
<circle cx="406.1" cy="700.9" r="2.7" fill="#1c9df2"/>
<circle cx="405.5" cy="700.3" r="0.95" fill="url(#hl)"/>
<circle cx="419.1" cy="743.7" r="2.7" fill="#1c9df2"/>
<circle cx="418.5" cy="743.1" r="0.95" fill="url(#hl)"/>
<circle cx="432.1" cy="700.2" r="2.7" fill="#1c9df2"/>
<circle cx="431.5" cy="699.6" r="0.95" fill="url(#hl)"/>
<circle cx="445.1" cy="698.4" r="2.7" fill="#1c9df2"/>
<circle cx="444.5" cy="697.8" r="0.95" fill="url(#hl)"/>
<circle cx="458.1" cy="707.4" r="2.7" fill="#1c9df2"/>
<circle cx="457.5" cy="706.8" r="0.95" fill="url(#hl)"/>
<circle cx="471.1" cy="670.8" r="2.7" fill="#1c9df2"/>
<circle cx="470.5" cy="670.2" r="0.95" fill="url(#hl)"/>
<circle cx="484.2" cy="499.9" r="2.7" fill="#1c9df2"/>
<circle cx="483.6" cy="499.3" r="0.95" fill="url(#hl)"/>
<circle cx="497.2" cy="679.4" r="2.7" fill="#1c9df2"/>
<circle cx="496.6" cy="678.8" r="0.95" fill="url(#hl)"/>
<circle cx="510.2" cy="621.4" r="2.7" fill="#1c9df2"/>
<circle cx="509.6" cy="620.8" r="0.95" fill="url(#hl)"/>
<circle cx="523.2" cy="670.1" r="2.7" fill="#1c9df2"/>
<circle cx="522.6" cy="669.5" r="0.95" fill="url(#hl)"/>
<polyline points="106.7,798.6 119.7,798.6 132.7,798.6 145.7,798.6 158.8,798.6 171.8,798.6 184.8,798.6 197.8,798.6 210.8,798.6 223.8,798.6 236.9,798.6 249.9,798.6 262.9,798.6 275.9,798.6 288.9,798.6 301.9,798.6 315.0,798.6 328.0,798.6 341.0,798.6 354.0,798.6 367.0,798.6 380.0,798.6 393.0,798.6 406.1,798.6 419.1,798.6 432.1,798.6 445.1,798.6 458.1,798.6 471.1,798.6 484.2,798.6 497.2,798.6 510.2,798.6 523.2,798.6" fill="none" stroke="#0e9a22" stroke-width="1.5" stroke-linejoin="round"/>
<circle cx="106.7" cy="798.6" r="2.7" fill="#0e9a22"/>
<circle cx="106.1" cy="798.0" r="1.12" fill="url(#hl)"/>
<circle cx="119.7" cy="798.6" r="2.7" fill="#0e9a22"/>
<circle cx="119.1" cy="798.0" r="1.12" fill="url(#hl)"/>
<circle cx="132.7" cy="798.6" r="2.7" fill="#0e9a22"/>
<circle cx="132.1" cy="798.0" r="1.12" fill="url(#hl)"/>
<circle cx="145.7" cy="798.6" r="2.7" fill="#0e9a22"/>
<circle cx="145.1" cy="798.0" r="1.12" fill="url(#hl)"/>
<circle cx="158.8" cy="798.6" r="2.7" fill="#0e9a22"/>
<circle cx="158.2" cy="798.0" r="1.12" fill="url(#hl)"/>
<circle cx="171.8" cy="798.6" r="2.7" fill="#0e9a22"/>
<circle cx="171.2" cy="798.0" r="1.12" fill="url(#hl)"/>
<circle cx="184.8" cy="798.6" r="2.7" fill="#0e9a22"/>
<circle cx="184.2" cy="798.0" r="1.12" fill="url(#hl)"/>
<circle cx="197.8" cy="798.6" r="2.7" fill="#0e9a22"/>
<circle cx="197.2" cy="798.0" r="1.12" fill="url(#hl)"/>
<circle cx="210.8" cy="798.6" r="2.7" fill="#0e9a22"/>
<circle cx="210.2" cy="798.0" r="1.12" fill="url(#hl)"/>
<circle cx="223.8" cy="798.6" r="2.7" fill="#0e9a22"/>
<circle cx="223.2" cy="798.0" r="1.12" fill="url(#hl)"/>
<circle cx="236.9" cy="798.6" r="2.7" fill="#0e9a22"/>
<circle cx="236.3" cy="798.0" r="1.12" fill="url(#hl)"/>
<circle cx="249.9" cy="798.6" r="2.7" fill="#0e9a22"/>
<circle cx="249.3" cy="798.0" r="1.12" fill="url(#hl)"/>
<circle cx="262.9" cy="798.6" r="2.7" fill="#0e9a22"/>
<circle cx="262.3" cy="798.0" r="1.12" fill="url(#hl)"/>
<circle cx="275.9" cy="798.6" r="2.7" fill="#0e9a22"/>
<circle cx="275.3" cy="798.0" r="1.12" fill="url(#hl)"/>
<circle cx="288.9" cy="798.6" r="2.7" fill="#0e9a22"/>
<circle cx="288.3" cy="798.0" r="1.12" fill="url(#hl)"/>
<circle cx="301.9" cy="798.6" r="2.7" fill="#0e9a22"/>
<circle cx="301.3" cy="798.0" r="1.12" fill="url(#hl)"/>
<circle cx="315.0" cy="798.6" r="2.7" fill="#0e9a22"/>
<circle cx="314.4" cy="798.0" r="1.12" fill="url(#hl)"/>
<circle cx="328.0" cy="798.6" r="2.7" fill="#0e9a22"/>
<circle cx="327.4" cy="798.0" r="1.12" fill="url(#hl)"/>
<circle cx="341.0" cy="798.6" r="2.7" fill="#0e9a22"/>
<circle cx="340.4" cy="798.0" r="1.12" fill="url(#hl)"/>
<circle cx="354.0" cy="798.6" r="2.7" fill="#0e9a22"/>
<circle cx="353.4" cy="798.0" r="1.12" fill="url(#hl)"/>
<circle cx="367.0" cy="798.6" r="2.7" fill="#0e9a22"/>
<circle cx="366.4" cy="798.0" r="1.12" fill="url(#hl)"/>
<circle cx="380.0" cy="798.6" r="2.7" fill="#0e9a22"/>
<circle cx="379.4" cy="798.0" r="1.12" fill="url(#hl)"/>
<circle cx="393.0" cy="798.6" r="2.7" fill="#0e9a22"/>
<circle cx="392.4" cy="798.0" r="1.12" fill="url(#hl)"/>
<circle cx="406.1" cy="798.6" r="2.7" fill="#0e9a22"/>
<circle cx="405.5" cy="798.0" r="1.12" fill="url(#hl)"/>
<circle cx="419.1" cy="798.6" r="2.7" fill="#0e9a22"/>
<circle cx="418.5" cy="798.0" r="1.12" fill="url(#hl)"/>
<circle cx="432.1" cy="798.6" r="2.7" fill="#0e9a22"/>
<circle cx="431.5" cy="798.0" r="1.12" fill="url(#hl)"/>
<circle cx="445.1" cy="798.6" r="2.7" fill="#0e9a22"/>
<circle cx="444.5" cy="798.0" r="1.12" fill="url(#hl)"/>
<circle cx="458.1" cy="798.6" r="2.7" fill="#0e9a22"/>
<circle cx="457.5" cy="798.0" r="1.12" fill="url(#hl)"/>
<circle cx="471.1" cy="798.6" r="2.7" fill="#0e9a22"/>
<circle cx="470.5" cy="798.0" r="1.12" fill="url(#hl)"/>
<circle cx="484.2" cy="798.6" r="2.7" fill="#0e9a22"/>
<circle cx="483.6" cy="798.0" r="1.12" fill="url(#hl)"/>
<circle cx="497.2" cy="798.6" r="2.7" fill="#0e9a22"/>
<circle cx="496.6" cy="798.0" r="1.12" fill="url(#hl)"/>
<circle cx="510.2" cy="798.6" r="2.7" fill="#0e9a22"/>
<circle cx="509.6" cy="798.0" r="1.12" fill="url(#hl)"/>
<circle cx="523.2" cy="798.6" r="2.7" fill="#0e9a22"/>
<circle cx="522.6" cy="798.0" r="1.12" fill="url(#hl)"/>
<polyline points="106.7,798.6 119.7,798.6 132.7,798.6 145.7,798.6 158.8,798.6 171.8,798.6 184.8,798.6 197.8,798.6 210.8,798.6 223.8,798.6 236.9,798.6 249.9,798.6 262.9,798.6 275.9,798.6 288.9,798.6 301.9,798.6 315.0,798.6 328.0,798.6 341.0,798.6 354.0,798.6 367.0,798.6 380.0,798.6 393.0,798.6 406.1,798.6 419.1,798.6 432.1,798.6 445.1,798.6 458.1,798.6 471.1,798.6 484.2,798.6 497.2,798.6 510.2,798.6 523.2,798.6" fill="none" stroke="#c262f0" stroke-width="2.0" stroke-linejoin="round"/>
<circle cx="106.7" cy="798.6" r="2.8" fill="#c262f0"/>
<circle cx="106.3" cy="797.7" r="1.23" fill="url(#hl)"/>
<circle cx="119.7" cy="798.6" r="2.8" fill="#c262f0"/>
<circle cx="119.3" cy="797.7" r="1.23" fill="url(#hl)"/>
<circle cx="132.7" cy="798.6" r="2.8" fill="#c262f0"/>
<circle cx="132.3" cy="797.7" r="1.23" fill="url(#hl)"/>
<circle cx="145.7" cy="798.6" r="2.8" fill="#c262f0"/>
<circle cx="145.3" cy="797.7" r="1.23" fill="url(#hl)"/>
<circle cx="158.8" cy="798.6" r="2.8" fill="#c262f0"/>
<circle cx="158.4" cy="797.7" r="1.23" fill="url(#hl)"/>
<circle cx="171.8" cy="798.6" r="2.8" fill="#c262f0"/>
<circle cx="171.4" cy="797.7" r="1.23" fill="url(#hl)"/>
<circle cx="184.8" cy="798.6" r="2.8" fill="#c262f0"/>
<circle cx="184.4" cy="797.7" r="1.23" fill="url(#hl)"/>
<circle cx="197.8" cy="798.6" r="2.8" fill="#c262f0"/>
<circle cx="197.4" cy="797.7" r="1.23" fill="url(#hl)"/>
<circle cx="210.8" cy="798.6" r="2.8" fill="#c262f0"/>
<circle cx="210.4" cy="797.7" r="1.23" fill="url(#hl)"/>
<circle cx="223.8" cy="798.6" r="2.8" fill="#c262f0"/>
<circle cx="223.4" cy="797.7" r="1.23" fill="url(#hl)"/>
<circle cx="236.9" cy="798.6" r="2.8" fill="#c262f0"/>
<circle cx="236.5" cy="797.7" r="1.23" fill="url(#hl)"/>
<circle cx="249.9" cy="798.6" r="2.8" fill="#c262f0"/>
<circle cx="249.5" cy="797.7" r="1.23" fill="url(#hl)"/>
<circle cx="262.9" cy="798.6" r="2.8" fill="#c262f0"/>
<circle cx="262.5" cy="797.7" r="1.23" fill="url(#hl)"/>
<circle cx="275.9" cy="798.6" r="2.8" fill="#c262f0"/>
<circle cx="275.5" cy="797.7" r="1.23" fill="url(#hl)"/>
<circle cx="288.9" cy="798.6" r="2.8" fill="#c262f0"/>
<circle cx="288.5" cy="797.7" r="1.23" fill="url(#hl)"/>
<circle cx="301.9" cy="798.6" r="2.8" fill="#c262f0"/>
<circle cx="301.5" cy="797.7" r="1.23" fill="url(#hl)"/>
<circle cx="315.0" cy="798.6" r="2.8" fill="#c262f0"/>
<circle cx="314.6" cy="797.7" r="1.23" fill="url(#hl)"/>
<circle cx="328.0" cy="798.6" r="2.8" fill="#c262f0"/>
<circle cx="327.6" cy="797.7" r="1.23" fill="url(#hl)"/>
<circle cx="341.0" cy="798.6" r="2.8" fill="#c262f0"/>
<circle cx="340.6" cy="797.7" r="1.23" fill="url(#hl)"/>
<circle cx="354.0" cy="798.6" r="2.8" fill="#c262f0"/>
<circle cx="353.6" cy="797.7" r="1.23" fill="url(#hl)"/>
<circle cx="367.0" cy="798.6" r="2.8" fill="#c262f0"/>
<circle cx="366.6" cy="797.7" r="1.23" fill="url(#hl)"/>
<circle cx="380.0" cy="798.6" r="2.8" fill="#c262f0"/>
<circle cx="379.6" cy="797.7" r="1.23" fill="url(#hl)"/>
<circle cx="393.0" cy="798.6" r="2.8" fill="#c262f0"/>
<circle cx="392.6" cy="797.7" r="1.23" fill="url(#hl)"/>
<circle cx="406.1" cy="798.6" r="2.8" fill="#c262f0"/>
<circle cx="405.7" cy="797.7" r="1.23" fill="url(#hl)"/>
<circle cx="419.1" cy="798.6" r="2.8" fill="#c262f0"/>
<circle cx="418.7" cy="797.7" r="1.23" fill="url(#hl)"/>
<circle cx="432.1" cy="798.6" r="2.8" fill="#c262f0"/>
<circle cx="431.7" cy="797.7" r="1.23" fill="url(#hl)"/>
<circle cx="445.1" cy="798.6" r="2.8" fill="#c262f0"/>
<circle cx="444.7" cy="797.7" r="1.23" fill="url(#hl)"/>
<circle cx="458.1" cy="798.6" r="2.8" fill="#c262f0"/>
<circle cx="457.7" cy="797.7" r="1.23" fill="url(#hl)"/>
<circle cx="471.1" cy="798.6" r="2.8" fill="#c262f0"/>
<circle cx="470.7" cy="797.7" r="1.23" fill="url(#hl)"/>
<circle cx="484.2" cy="798.6" r="2.8" fill="#c262f0"/>
<circle cx="483.8" cy="797.7" r="1.23" fill="url(#hl)"/>
<circle cx="497.2" cy="798.6" r="2.8" fill="#c262f0"/>
<circle cx="496.8" cy="797.7" r="1.23" fill="url(#hl)"/>
<circle cx="510.2" cy="798.6" r="2.8" fill="#c262f0"/>
<circle cx="509.8" cy="797.7" r="1.23" fill="url(#hl)"/>
<circle cx="523.2" cy="798.6" r="2.8" fill="#c262f0"/>
<circle cx="522.8" cy="797.7" r="1.23" fill="url(#hl)"/>
</g>
<text x="35.79 43.69 49.98 57.07 63.37 70.79 78.34 85.43 92.52" y="804.00" font-size="14.2" >0.00E+000</text>
<text x="35.79 43.69 49.98 57.07 63.37 70.79 78.34 85.43 92.52" y="756.03" font-size="14.2" >5.00E+015</text>
<text x="35.79 43.69 49.98 57.07 63.37 70.79 78.34 85.43 92.52" y="708.06" font-size="14.2" >1.00E+016</text>
<text x="35.79 43.69 49.98 57.07 63.37 70.79 78.34 85.43 92.52" y="660.09" font-size="14.2" >1.50E+016</text>
<text x="35.79 43.69 49.98 57.07 63.37 70.79 78.34 85.43 92.52" y="612.12" font-size="14.2" >2.00E+016</text>
<text x="35.79 43.69 49.98 57.07 63.37 70.79 78.34 85.43 92.52" y="564.15" font-size="14.2" >2.50E+016</text>
<text x="35.79 43.69 49.98 57.07 63.37 70.79 78.34 85.43 92.52" y="516.18" font-size="14.2" >3.00E+016</text>
<text x="35.79 43.69 49.98 57.07 63.37 70.79 78.34 85.43 92.52" y="468.21" font-size="14.2" >3.50E+016</text>
<text transform="translate(108.0,811.6) rotate(40)" font-size="7.3" letter-spacing="0.35" text-anchor="middle" fill="#555" y="2.3">Z4</text>
<text transform="translate(121.0,811.6) rotate(40)" font-size="7.3" letter-spacing="0.35" text-anchor="middle" fill="#555" y="2.3">Z5</text>
<text transform="translate(134.0,811.6) rotate(40)" font-size="7.3" letter-spacing="0.35" text-anchor="middle" fill="#555" y="2.3">Z6</text>
<text transform="translate(147.0,811.6) rotate(40)" font-size="7.3" letter-spacing="0.35" text-anchor="middle" fill="#555" y="2.3">Z7</text>
<text transform="translate(160.1,811.6) rotate(40)" font-size="7.3" letter-spacing="0.35" text-anchor="middle" fill="#555" y="2.3">Z8</text>
<text transform="translate(173.1,811.6) rotate(40)" font-size="7.3" letter-spacing="0.35" text-anchor="middle" fill="#555" y="2.3">Z9</text>
<text transform="translate(187.2,812.4) rotate(40)" font-size="7.3" letter-spacing="0.35" text-anchor="middle" fill="#555" y="2.3">Z10</text>
<text transform="translate(200.2,812.4) rotate(40)" font-size="7.3" letter-spacing="0.35" text-anchor="middle" fill="#555" y="2.3">Z11</text>
<text transform="translate(213.2,812.4) rotate(40)" font-size="7.3" letter-spacing="0.35" text-anchor="middle" fill="#555" y="2.3">Z12</text>
<text transform="translate(226.2,812.4) rotate(40)" font-size="7.3" letter-spacing="0.35" text-anchor="middle" fill="#555" y="2.3">Z13</text>
<text transform="translate(239.3,812.4) rotate(40)" font-size="7.3" letter-spacing="0.35" text-anchor="middle" fill="#555" y="2.3">Z14</text>
<text transform="translate(252.3,812.4) rotate(40)" font-size="7.3" letter-spacing="0.35" text-anchor="middle" fill="#555" y="2.3">Z15</text>
<text transform="translate(265.3,812.4) rotate(40)" font-size="7.3" letter-spacing="0.35" text-anchor="middle" fill="#555" y="2.3">Z16</text>
<text transform="translate(278.3,812.4) rotate(40)" font-size="7.3" letter-spacing="0.35" text-anchor="middle" fill="#555" y="2.3">Z17</text>
<text transform="translate(291.3,812.4) rotate(40)" font-size="7.3" letter-spacing="0.35" text-anchor="middle" fill="#555" y="2.3">Z18</text>
<text transform="translate(304.3,812.4) rotate(40)" font-size="7.3" letter-spacing="0.35" text-anchor="middle" fill="#555" y="2.3">Z19</text>
<text transform="translate(317.4,812.4) rotate(40)" font-size="7.3" letter-spacing="0.35" text-anchor="middle" fill="#555" y="2.3">Z20</text>
<text transform="translate(330.4,812.4) rotate(40)" font-size="7.3" letter-spacing="0.35" text-anchor="middle" fill="#555" y="2.3">Z21</text>
<text transform="translate(343.4,812.4) rotate(40)" font-size="7.3" letter-spacing="0.35" text-anchor="middle" fill="#555" y="2.3">Z22</text>
<text transform="translate(356.4,812.4) rotate(40)" font-size="7.3" letter-spacing="0.35" text-anchor="middle" fill="#555" y="2.3">Z23</text>
<text transform="translate(369.4,812.4) rotate(40)" font-size="7.3" letter-spacing="0.35" text-anchor="middle" fill="#555" y="2.3">Z24</text>
<text transform="translate(382.4,812.4) rotate(40)" font-size="7.3" letter-spacing="0.35" text-anchor="middle" fill="#555" y="2.3">Z25</text>
<text transform="translate(395.4,812.4) rotate(40)" font-size="7.3" letter-spacing="0.35" text-anchor="middle" fill="#555" y="2.3">Z26</text>
<text transform="translate(408.5,812.4) rotate(40)" font-size="7.3" letter-spacing="0.35" text-anchor="middle" fill="#555" y="2.3">Z27</text>
<text transform="translate(421.5,812.4) rotate(40)" font-size="7.3" letter-spacing="0.35" text-anchor="middle" fill="#555" y="2.3">Z28</text>
<text transform="translate(434.5,812.4) rotate(40)" font-size="7.3" letter-spacing="0.35" text-anchor="middle" fill="#555" y="2.3">Z29</text>
<text transform="translate(447.5,812.4) rotate(40)" font-size="7.3" letter-spacing="0.35" text-anchor="middle" fill="#555" y="2.3">Z30</text>
<text transform="translate(460.5,812.4) rotate(40)" font-size="7.3" letter-spacing="0.35" text-anchor="middle" fill="#555" y="2.3">Z31</text>
<text transform="translate(473.5,812.4) rotate(40)" font-size="7.3" letter-spacing="0.35" text-anchor="middle" fill="#555" y="2.3">Z32</text>
<text transform="translate(486.6,812.4) rotate(40)" font-size="7.3" letter-spacing="0.35" text-anchor="middle" fill="#555" y="2.3">Z33</text>
<text transform="translate(499.6,812.4) rotate(40)" font-size="7.3" letter-spacing="0.35" text-anchor="middle" fill="#555" y="2.3">Z34</text>
<text transform="translate(512.6,812.4) rotate(40)" font-size="7.3" letter-spacing="0.35" text-anchor="middle" fill="#555" y="2.3">Z35</text>
<text transform="translate(525.6,812.4) rotate(40)" font-size="7.3" letter-spacing="0.35" text-anchor="middle" fill="#555" y="2.3">Z36</text>
<text x="239.09 250.63 259.28 266.02 275.65 281.43 291.05 301.39 307.41 319.91 327.61 335.32 344.69 351.25 360.05 368.85 382.46 391.26 399.08 404.99" y="832.80" font-size="17.3" >Zernike mode numbers</text>
<text x="312.45 319.67 329.77" y="851.20" font-size="17.3" >(b)</text>
<text x="0.49 12.99 22.61 32.23 41.85 47.63 53.41 59.18 68.80 80.11 86.53 95.03 103.53 116.84 125.34 132.87" y="0.00" font-size="17.3" transform="translate(30,701.6) rotate(-90)">Condition number</text>
<line x1="122.3" y1="477.9" x2="149" y2="477.9" stroke="#f40f0f" stroke-width="1.5"/>
<circle cx="135.8" cy="477.9" r="2.7" fill="#f40f0f"/>
<circle cx="135.2" cy="477.3" r="1.15" fill="url(#hl)"/>
<text x="155.72 163.15 175.19 183.34 188.26 196.41 202.34 209.02 215.79 221.21 228.14 233.60 239.06 245.99" y="482.50 484.50 482.50 482.50 482.50 482.50 482.50 482.50 482.50 482.50 482.50 482.50 482.50 482.50" font-size="13.3" >5<tspan font-size="20.0">×</tspan>5 Lens array</text>
<line x1="122.3" y1="492.3" x2="149" y2="492.3" stroke="#1c9df2" stroke-width="1.5"/>
<circle cx="135.8" cy="492.3" r="2.7" fill="#1c9df2"/>
<circle cx="135.2" cy="491.7" r="1.15" fill="url(#hl)"/>
<text x="155.84 165.54 171.53 178.27 184.26 191.00 197.74 204.48 210.47 215.79 220.92 227.28 232.15 237.03 243.38 250.48 257.58 263.93 274.72 281.07 288.17 293.67 299.06 306.66 313.14 317.97 324.46 332.61 338.06 342.82 349.80 357.52 363.77 370.75" y="496.90 496.90 496.90 496.90 496.90 496.90 496.90 496.90 496.90 496.90 496.90 496.90 496.90 496.90 496.90 496.90 496.90 496.90 496.90 496.90 496.90 496.90 496.90 496.90 496.90 496.90 496.90 496.90 496.90 496.90 496.90 496.90 496.90 496.90" font-size="13.3" >Hexagonal arrangement of 19 lenses</text>
<line x1="122.3" y1="506.7" x2="149" y2="506.7" stroke="#0e9a22" stroke-width="1.5"/>
<circle cx="135.8" cy="506.7" r="2.7" fill="#0e9a22"/>
<circle cx="135.2" cy="506.1" r="1.15" fill="url(#hl)"/>
<text x="156.09 164.07 171.30 177.78 182.79 188.55 196.32 201.45 207.81 212.68 217.56 223.91 231.01 238.11 244.46 255.25 261.60 268.70 274.20 279.59 287.19 293.67 298.50 304.99 313.14 318.59 323.35 330.33 338.05 344.30 351.28" y="511.30 511.30 511.30 511.30 511.30 511.30 511.30 511.30 511.30 511.30 511.30 511.30 511.30 511.30 511.30 511.30 511.30 511.30 511.30 511.30 511.30 511.30 511.30 511.30 511.30 511.30 511.30 511.30 511.30 511.30 511.30" font-size="13.3" >Sparse arrangement of 25 lenses</text>
<line x1="122.3" y1="521.1" x2="149" y2="521.1" stroke="#c56df2" stroke-width="1.5"/>
<circle cx="135.8" cy="521.1" r="2.7" fill="#c56df2"/>
<circle cx="135.2" cy="520.5" r="1.15" fill="url(#hl)"/>
<text x="156.09 164.07 171.30 177.78 182.79 188.55 196.32 201.45 207.81 212.68 217.56 223.91 231.01 238.11 244.46 255.25 261.60 268.70 274.20 279.59 287.19 293.67 298.50 304.99 313.14 318.59 323.35 330.33 338.05 344.30 351.28" y="525.70 525.70 525.70 525.70 525.70 525.70 525.70 525.70 525.70 525.70 525.70 525.70 525.70 525.70 525.70 525.70 525.70 525.70 525.70 525.70 525.70 525.70 525.70 525.70 525.70 525.70 525.70 525.70 525.70 525.70 525.70" font-size="13.3" >Sparse arrangement of 31 lenses</text>
</g>
</svg>
</body></html>
